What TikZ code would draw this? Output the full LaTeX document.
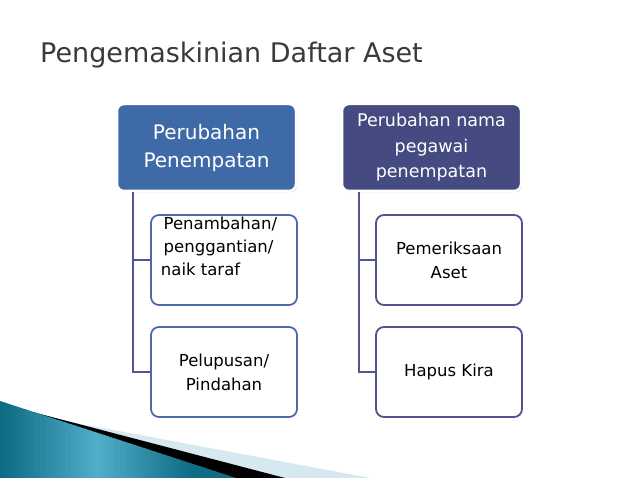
\documentclass[tikz,border=0pt]{standalone}
\usepackage{fontspec}
\setmainfont{DejaVu Sans}
\usetikzlibrary{shadows}
\definecolor{titlegray}{HTML}{3A3A3A}
\definecolor{pblue}{HTML}{3E6AA8}
\definecolor{ppurple}{HTML}{454A80}
\definecolor{cblue}{HTML}{4A6BA8}
\definecolor{cpurple}{HTML}{50548A}
\definecolor{connc}{HTML}{54578F}
\definecolor{tealdark}{HTML}{0F6C84}
\definecolor{teallight}{HTML}{62BEDA}
\definecolor{lightstripe}{HTML}{D6E8F0}
\tikzset{
  parentbox/.style={draw=white, line width=2.5pt, rounded corners=7pt,
    minimum width=179pt, minimum height=87pt, inner sep=0pt, align=center,
    text=white, drop shadow={opacity=0.4, shadow xshift=1.2pt, shadow yshift=-1.2pt}},
  childbox/.style={fill=white, line width=1.8pt, rounded corners=8pt,
    minimum width=146pt, minimum height=90pt, inner sep=0pt, align=center,
    font=\fontsize{16.5}{24}\selectfont, text=black},
  conn/.style={draw=connc, line width=2.5pt},
}
\begin{document}
\begin{tikzpicture}[x=1pt,y=-1pt]
\useasboundingbox (0,0) rectangle (638,478);
\fill[white] (0,0) rectangle (638,478);

% bottom-left decoration
\fill[lightstripe] (60,420) -- (370,478) -- (0,478) -- cycle;
\fill[black] (25,410) -- (285,478) -- (0,478) -- (0,404) -- cycle;
\begin{scope}
  \clip (0,401) -- (236,478) -- (0,478) -- cycle;
  \foreach \i in {0,...,48}{
    \pgfmathsetmacro\p{max(0,80-abs(\i*5-95)*0.85)}
    \fill[teallight!\p!tealdark] (\i*5,395) rectangle (\i*5+5.6,480);
  }
\end{scope}

% title
\node[anchor=base west, text=titlegray, font=\fontsize{27}{30}\selectfont, inner sep=0pt]
  (title) at (40,63) {Pengemaskinian Daftar Aset};

% parent boxes
\node[parentbox, fill=pblue, font=\fontsize{20}{28}\selectfont]
  (lp) at (206.5,147.5) {Perubahan\\Penempatan};
\node[parentbox, fill=ppurple, font=\fontsize{17.5}{25.5}\selectfont]
  (rp) at (431.5,147.5) {Perubahan nama\\pegawai\\penempatan};

% children
\node[childbox, draw=cblue] (lc1) at (224,260) {};
\node[align=left, font=\fontsize{16.5}{23}\selectfont, inner sep=0pt]
  (lc1t) at (219,246) {\,Penambahan/\\\,penggantian/\\naik taraf};
\node[childbox, draw=cblue] (lc2) at (224,372) {Pelupusan/\\Pindahan};
\node[childbox, draw=cpurple] (rc1) at (449,260) {Pemeriksaan\\Aset};
\node[childbox, draw=cpurple] (rc2) at (449,372) {Hapus Kira};

% connectors
\draw[conn] ([xshift=17pt]lp.south west) |- (lc1.west);
\draw[conn] ([xshift=17pt]lp.south west) |- (lc2.west);
\draw[conn] ([xshift=18pt]rp.south west) |- (rc1.west);
\draw[conn] ([xshift=18pt]rp.south west) |- (rc2.west);
\end{tikzpicture}
\end{document}
